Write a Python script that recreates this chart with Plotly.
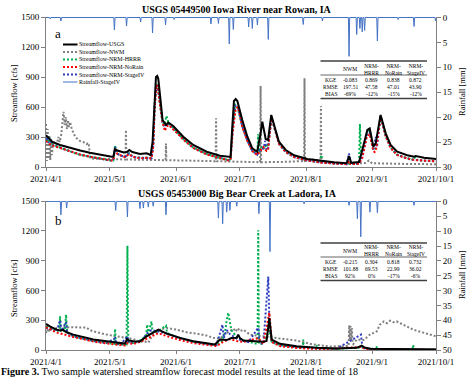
import pandas as pd
import plotly.graph_objects as go
from plotly.subplots import make_subplots

# ---------------- data (day offset from 2021-04-01, value) ----------------
START = "2021-04-01"
END = "2021-10-01"

usgs_a = [(0, 318), (3, 250), (6.6, 220), (9, 205), (12.8, 187), (16, 165), (20.6, 143), (24, 128),
          (28.5, 110), (30.8, 103), (31.6, 105), (32.4, 180), (33.5, 165), (34.7, 160), (36.5, 145),
          (38, 150), (39.1, 170), (40.5, 150), (42, 140), (44.1, 130), (47.2, 137), (49.1, 120),
          (50.0, 250), (50.8, 600), (51.6, 900), (52.2, 910), (52.7, 880), (53.6, 700), (54.7, 470),
          (56.3, 420), (57.4, 445), (59.7, 410), (62, 360), (64.4, 303), (69.1, 220), (75.4, 153),
          (81.6, 113), (85.6, 97), (86.6, 100), (87.4, 400), (88.2, 660), (89.0, 680), (89.8, 660), (92.1, 470),
          (94.5, 303), (96.8, 187), (99.1, 153), (100.7, 337), (101.5, 453), (103.1, 277), (104.2, 270),
          (105.7, 520), (107, 420), (109.3, 253), (112.5, 170), (116.4, 117), (122.6, 80), (128.9, 60),
          (135.1, 47), (141.1, 37), (142.2, 110), (143.2, 42), (146.9, 50), (148.4, 170), (150.8, 370),
          (151.9, 385), (153.6, 203), (154.7, 237), (157, 520), (159.4, 337), (161.7, 220), (164.8, 153),
          (169.5, 117), (172.7, 103), (173.5, 110), (177.4, 93), (183, 80)]

nwm_a = [(0, 430), (0.4, 60), (0.8, 380), (1.2, 80), (1.6, 320), (2.0, 70), (2.4, 280), (2.8, 120),
         (3.3, 260), (4, 240), (5, 220), (5.8, 300), (6.4, 250), (7.2, 330), (8.2, 552), (8.8, 420),
         (9.3, 500), (9.8, 380), (10.3, 470), (10.8, 400), (11.3, 450), (12, 390), (13, 330),
         (14.4, 287), (16, 260), (17.5, 250), (19, 230), (20, 240), (20.8, 85), (25, 82), (30, 78),
         (35, 75), (37.3, 75), (37.5, 370), (37.7, 75), (45, 72), (50, 70), (56.1, 68), (56.3, 235),
         (56.5, 68), (65, 65), (72, 62), (79.6, 58), (79.8, 487), (80, 58), (85, 55), (90, 52), (95, 50),
         (100.5, 48), (100.7, 810), (100.9, 48), (110, 50), (115, 55), (121.1, 60), (121.3, 887),
         (121.5, 60), (125, 75), (127, 70), (128.8, 50), (129, 610), (129.2, 45), (135, 38), (140, 35),
         (145, 33), (150, 40), (151.5, 65), (153, 38), (160, 32), (170, 30), (183, 28)]

hrrr_a = [(0, 280), (0.7, 250), (1.4, 300), (2.2, 240), (3, 225), (6.6, 195), (9, 172), (12.8, 143),
          (16, 122), (20.6, 103), (24, 85), (28.5, 70), (30.8, 63), (31.6, 66), (32.4, 215), (33.2, 140),
          (35, 112), (37, 102), (39, 140), (40.5, 108), (42, 98), (45, 92), (47.2, 95), (49.5, 90),
          (50.3, 220), (51, 620), (51.8, 830), (52.5, 790), (53.3, 680), (54.7, 440), (55.6, 420),
          (56.5, 510), (57.5, 440), (59.7, 390), (62, 335), (64.4, 280), (69.1, 195), (75.4, 130),
          (81.6, 90), (85.6, 70), (86.6, 80), (87.6, 400), (88.7, 630), (90, 590), (91, 500), (92.1, 410),
          (94.5, 265), (96.8, 165), (99.1, 125), (99.6, 330), (100.1, 150), (100.7, 180), (101.5, 210),
          (102.2, 180), (103.5, 230), (104.2, 200), (105.8, 500), (107, 405), (109.3, 235), (112.5, 150),
          (116.4, 100), (122.6, 66), (128.5, 48), (129.2, 120), (129.8, 50), (135.1, 36), (141.1, 30),
          (143, 32), (146.9, 35), (147.3, 430), (147.8, 120), (148.4, 110), (150.5, 330), (151.9, 370),
          (153.6, 170), (154.9, 190), (157, 510), (159.4, 312), (161.7, 192), (164.8, 122), (169.5, 87),
          (172.5, 72), (173, 95), (173.5, 72), (177.4, 63), (183, 58)]

norain_a = [(0, 260), (1, 240), (3, 215), (6.6, 190), (9, 170), (12.8, 145), (16, 125), (20.6, 103),
            (24, 88), (28.5, 72), (30.8, 65), (31.6, 68), (32.4, 190), (33.5, 130), (35, 115), (37, 100),
            (39, 130), (40.5, 105), (42, 95), (45, 88), (47.2, 92), (49.5, 85), (50.3, 200), (51, 600),
            (51.8, 820), (52.5, 800), (53.3, 650), (54.7, 450), (55.8, 360), (56.5, 400), (57.5, 420),
            (59.7, 380), (62, 330), (64.4, 275), (69.1, 190), (75.4, 125), (81.6, 85), (85.6, 65),
            (86.6, 75), (87.6, 350), (89, 580), (90, 600), (91, 520), (92.1, 400), (94.5, 260),
            (96.8, 160), (99.1, 120), (100.7, 170), (102, 200), (103.5, 160), (104.2, 170), (105.8, 500),
            (107, 400), (109.3, 230), (112.5, 150), (116.4, 100), (122.6, 65), (128.9, 45), (135.1, 35),
            (141.1, 28), (142.2, 60), (143, 30), (146.9, 32), (148.4, 90), (150.5, 300), (151.9, 330),
            (153.6, 160), (154.2, 150), (154.9, 180), (157, 505), (159.4, 310), (161.7, 190),
            (164.8, 120), (169.5, 85), (172.7, 70), (177.4, 62), (183, 57)]

stageiv_a = [(0, 270), (0.5, 300), (1.2, 240), (2, 280), (3, 220), (6.6, 192), (9, 171), (12.8, 144),
             (16, 123), (20.6, 103), (24, 86), (28.5, 71), (30.8, 64), (31.6, 67), (32.4, 200),
             (33.3, 135), (35, 113), (37, 101), (39, 135), (40.5, 106), (42, 96), (45, 90), (47.2, 93),
             (49.5, 87), (50.3, 210), (51, 610), (51.8, 825), (52.5, 795), (53.3, 670), (54.7, 445),
             (55.8, 380), (56.5, 440), (57.5, 430), (59.7, 385), (62, 332), (64.4, 278), (69.1, 192),
             (75.4, 128), (81.6, 88), (85.6, 68), (86.6, 78), (87.6, 380), (88.9, 610), (90, 600),
             (91, 510), (92.1, 405), (94.5, 262), (96.8, 162), (99.1, 122), (100.7, 175), (102.2, 190),
             (102.8, 260), (103.5, 170), (104.2, 185), (105.8, 500), (107, 402), (109.3, 232),
             (112.5, 150), (116.4, 100), (122.6, 65), (128.9, 46), (135.1, 35), (141.1, 29),
             (142.2, 135), (143, 35), (146.9, 33), (148.4, 100), (150.5, 320), (151.9, 345),
             (153.6, 165), (154.7, 300), (155.3, 200), (157, 508), (159.4, 311), (161.7, 191),
             (164.8, 121), (169.5, 86), (172.7, 71), (177.4, 62), (183, 57)]

rain_a = [(2, 0.3), (7.0, 0.7), (32.1, 2.5), (37.8, 1.7), (44.4, 0.9), (50.0, 3.1), (56.1, 1.5),
          (60.1, 0.4), (77.4, 1.3), (80.9, 1.2), (86.0, 5.3), (87.9, 2.4), (95.1, 1.9), (96.8, 2.2),
          (99.2, 1.5), (104.3, 4.4), (120.7, 1.4), (129.7, 0.7), (142.2, 7.8), (145.8, 3.4),
          (147.3, 2.2), (148.4, 2.9), (149.5, 2.6), (155.5, 4.7), (165.2, 0.4), (172.7, 1.8),
          (182.8, 0.7)]

usgs_b = [(0, 262), (2, 235), (5, 205), (7, 195), (8, 205), (9.7, 178), (12.8, 155), (15, 145),
          (17.5, 132), (22.2, 105), (28.5, 88), (34.7, 72), (37.1, 65), (38, 110), (39, 95), (41, 88),
          (44.1, 85), (47.2, 138), (50.3, 178), (52.7, 205), (56.6, 165), (62.9, 122), (69.1, 88),
          (75.4, 65), (79.3, 55), (81.6, 105), (84.8, 100), (87, 120), (89.5, 122), (90.2, 155),
          (91, 120), (92.6, 95), (98.9, 82), (102, 82), (103.5, 90), (104.8, 320), (105.9, 105),
          (109.8, 62), (117.6, 38), (127, 22), (136.4, 15), (145.8, 22), (148.1, 45), (149.5, 25),
          (152, 12), (164.5, 8), (183, 5)]

nwm_b = [(0, 170), (0.5, 210), (1, 180), (1.5, 200), (3, 215), (5, 222), (8, 228), (12, 230), (16, 228),
         (19, 225), (20.6, 200), (22.2, 188), (28.5, 155), (34.7, 132), (38, 125), (41, 110), (44, 80),
         (46, 90), (48, 75), (50, 150), (53.5, 205), (56.6, 222), (61.3, 205), (66, 178), (70.7, 165),
         (75.4, 145), (78.5, 122), (81.6, 115), (84, 160), (86.3, 195), (88, 215), (89, 185), (90, 220),
         (91, 190), (92.6, 205), (95.7, 155), (102, 135), (109.8, 115), (117.6, 95), (125.4, 55),
         (133, 35), (139.5, 40), (142, 40), (142.3, 250), (142.6, 100), (142.9, 240), (143.2, 90),
         (143.5, 220), (143.8, 70), (144.2, 60), (145.8, 105), (149, 100), (152, 155), (155.2, 188),
         (156.7, 255), (158.5, 288), (160, 270), (161.5, 295), (163, 280), (164.5, 288), (167.6, 255),
         (172.3, 205), (177, 175), (183, 138)]

hrrr_b = [(0, 235), (3, 205), (5, 190), (6.2, 200), (6.6, 338), (7, 200), (8.8, 190), (9.4, 355),
          (9.9, 180), (12.8, 140), (17.5, 115), (22.2, 92), (28.5, 72), (32, 62), (32.4, 212),
          (32.8, 62), (35, 55), (37.8, 55), (38.2, 1050), (38.6, 80), (41, 70), (45, 105), (47, 150),
          (47.5, 255), (48, 160), (49.5, 288), (50, 180), (52.7, 190), (56.3, 245), (56.8, 170),
          (62.9, 120), (69.1, 85), (75.4, 62), (80, 50), (82.5, 90), (84, 180), (84.8, 300), (85.5, 375),
          (86.3, 280), (87, 200), (89.5, 130), (92, 100), (95, 85), (99.3, 60), (99.6, 1205),
          (99.9, 60), (102, 65), (104.8, 200), (105.9, 80), (109.8, 50), (117.6, 30), (120.5, 28),
          (120.7, 105), (121, 28), (126.8, 20), (127, 50), (127.3, 18), (136.4, 12), (148, 25),
          (155, 8), (155.2, 35), (155.5, 8), (172, 6), (172.3, 50), (172.6, 6), (183, 5)]

norain_b = [(0, 230), (5, 175), (9.7, 150), (12.8, 130), (17.5, 110), (22.2, 85), (28.5, 65), (34.7, 50),
            (37.1, 45), (38.3, 70), (41, 60), (45, 90), (50.3, 150), (52.7, 170), (56.6, 140),
            (62.9, 100), (69.1, 70), (75.4, 50), (80, 40), (83, 80), (86.3, 110), (89.5, 90), (92.6, 80),
            (99.6, 120), (102, 60), (104.8, 375), (105.9, 80), (109.8, 40), (117.6, 20), (130, 8),
            (148, 30), (150, 8), (160, 5), (183, 3)]

stageiv_b = [(0, 225), (3, 200), (5, 185), (6.6, 300), (7.2, 190), (9.4, 280), (9.9, 175), (12.8, 138),
             (17.5, 112), (22.2, 90), (28.5, 70), (32.4, 120), (33, 60), (35, 54), (38.2, 140),
             (38.6, 75), (41, 68), (45, 100), (47.5, 170), (49.5, 200), (52.7, 185), (56.3, 170),
             (62.9, 118), (69.1, 83), (75.4, 60), (80, 48), (82.8, 255), (83.4, 120), (84.8, 200),
             (86.3, 160), (89.5, 115), (92, 95), (95, 80), (99.6, 225), (100.2, 70), (102, 62),
             (104.3, 738), (104.8, 300), (105.9, 85), (109.8, 48), (117.6, 28), (127, 18), (136.4, 12),
             (147.8, 155), (148.5, 20), (155, 8), (183, 5)]

rain_b = [(7.0, 4.5), (9.7, 2.2), (32.7, 3.0), (38.2, 5.2), (44.1, 2.4), (45.7, 2.2), (48.0, 1.9),
          (50.3, 1.6), (56.3, 4.5), (80.9, 5.6), (82.9, 7.5), (84.8, 3.6), (86.3, 3.0), (89.5, 1.6),
          (99.9, 4.1), (105.1, 16.9), (121.1, 0.8), (142.2, 1.3), (146.1, 5.8), (147.7, 11.9),
          (152.0, 3.6), (155.5, 3.8), (172.7, 1.3)]

titles = ["USGS 05449500 Iowa River near Rowan, IA", "USGS 05453000 Big Bear Creek at Ladora, IA"]
panel_labels = ["a", "b"]
table_header = ["NWM", "NRM-<br>HRRR", "NRM-<br>NoRain", "NRM-<br>StageIV"]
row_names = ["KGE", "RMSE", "BIAS"]
table_a = [["-0.083", "0.869", "0.838", "0.872"],
           ["197.51", "47.58", "47.01", "43.90"],
           ["-69%", "-12%", "-15%", "-12%"]]
table_b = [["-0.215", "0.304", "0.818", "0.732"],
           ["101.88", "69.53", "22.99", "36.02"],
           ["92%", "0%", "-17%", "-6%"]]
legend_names = ["Streamflow-USGS", "Streamflow-NWM", "Streamflow-NRM-HRRR",
                "Streamflow-NRM-NoRain", "Streamflow-NRM-StageIV", "Rainfall-StageIV"]
caption = "<b>Figure 3.</b> Two sample watershed streamflow forecast model results at the lead time of 18"

# ---------------- helpers ----------------
W, H = 474, 377
L, R, T, B = 46, 38, 17, 27
PW, PH = W - L - R, H - T - B
FONT = "Liberation Serif, Times New Roman, serif"
base = pd.Timestamp(START)


def px(x):
    return (x - L) / PW


def py(y):
    return (H - B - y) / PH


def to_xy(pairs):
    d = [p[0] for p in pairs]
    v = [p[1] for p in pairs]
    return base + pd.to_timedelta(d, unit="D"), v


def rain_xy(events, half=0.3):
    d, v = [0.0], [0.0]
    for day, mm in events:
        d += [day - half, day, day + half]
        v += [0.0, mm, 0.0]
    d.append(183.0)
    v.append(0.0)
    return base + pd.to_timedelta(d, unit="D"), v


STYLE = {
    "usgs": dict(color="black", width=2),
    "nwm": dict(color="#7f7f7f", width=2, dash="2px,2px"),
    "hrrr": dict(color="#00b050", width=2, dash="2px,2px"),
    "norain": dict(color="#ff0000", width=2, dash="2px,2px"),
    "stageiv": dict(color="#2f3fbf", width=2, dash="2px,2px"),
    "rain": dict(color="#4472c4", width=1),
}

fig = make_subplots(rows=2, cols=1, specs=[[{"secondary_y": True}], [{"secondary_y": True}]])

panels = [
    (1, [("nwm", nwm_a), ("hrrr", hrrr_a), ("stageiv", stageiv_a), ("norain", norain_a), ("usgs", usgs_a)], rain_a),
    (2, [("nwm", nwm_b), ("hrrr", hrrr_b), ("stageiv", stageiv_b), ("norain", norain_b), ("usgs", usgs_b)], rain_b),
]
for row, series, rain in panels:
    for key, data in series:
        x, y = to_xy(data)
        fig.add_trace(go.Scatter(x=x, y=y, mode="lines", line=STYLE[key], showlegend=False,
                                 hoverinfo="skip"), row=row, col=1, secondary_y=False)
    rx, ry = rain_xy(rain)
    fig.add_trace(go.Scatter(x=rx, y=ry, mode="lines", line=STYLE["rain"], showlegend=False,
                             hoverinfo="skip"), row=row, col=1, secondary_y=True)

axis_common = dict(showline=True, linecolor="#808080", linewidth=1, ticks="outside", ticklen=4,
                   tickcolor="#808080", showgrid=False, zeroline=False, automargin=False,
                   tickfont=dict(family=FONT, size=9, color="black"))
xax = dict(axis_common, type="date", range=[START, END], dtick="M1", tick0=START,
           tickformat="%Y/%-m/%-d", ticklen=3)
fig.update_layout(
    xaxis=dict(xax, domain=[0, 1]),
    xaxis2=dict(xax, domain=[0, 1]),
    yaxis=dict(axis_common, domain=[py(167), py(17)], range=[0, 1500], tickvals=list(range(0, 1501, 300))),
    yaxis3=dict(axis_common, domain=[0, py(201)], range=[0, 1500], tickvals=list(range(0, 1501, 300))),
    yaxis2=dict(axis_common, range=[30, -0.1], tickvals=list(range(0, 31, 5)), side="right"),
    yaxis4=dict(axis_common, range=[50, -0.15], tickvals=list(range(0, 51, 5)), side="right"),
)

ann = []
shapes = []


def text(t, x, y, size, xanchor="center", yanchor="middle", angle=0):
    ann.append(dict(text=t, x=px(x), y=py(y), xref="paper", yref="paper", showarrow=False,
                    xanchor=xanchor, yanchor=yanchor, textangle=angle, borderpad=0, borderwidth=0,
                    font=dict(family=FONT, size=size, color="black")))


def hline(x0, x1, y, width, color="#404040", dash="solid"):
    shapes.append(dict(type="line", xref="paper", yref="paper", x0=px(x0), x1=px(x1), y0=py(y), y1=py(y),
                       line=dict(color=color, width=width, dash=dash)))


# titles, panel labels, axis titles
for t, yc in zip(titles, [10, 193]):
    text("<b>" + t + "</b>", 237, yc, 10)
for lab, (lx, ly) in zip(panel_labels, [(58, 33), (58, 220)]):
    text(lab, lx, ly, 13)
for yc in [93, 288]:
    text("Streamflow [cfs]", 14, yc, 8.5, angle=-90)
for yc in [92, 275]:
    text("Rainfall [mm]", 462, yc, 8.5, angle=-90)

# tables
col_x = [350, 371.5, 393.5, 415.5]
for t0, tbl in [(61, table_a), (243, table_b)]:
    hline(320.5, 427, t0, 1.5)
    hline(320.5, 427, t0 + 14, 0.8)
    hline(320.5, 427, t0 + 37.5, 1.5)
    for cx, h in zip(col_x, table_header):
        text(h, cx, t0 + 8, 5.5)
    for r, (name, vals) in enumerate(zip(row_names, tbl)):
        ry = t0 + 19 + 7 * r
        text(name, 331, ry, 5.5)
        for cx, v in zip(col_x, vals):
            text(v, cx, ry, 5.5)

# legend (panel a)
leg_keys = ["usgs", "nwm", "hrrr", "norain", "stageiv", "rain"]
for i, (k, name) in enumerate(zip(leg_keys, legend_names)):
    ly = 44.5 + 7.5 * i
    st = STYLE[k]
    hline(63, 77.5, ly, st["width"], color=st["color"], dash=st.get("dash", "solid"))
    text(name, 78.5, ly, 6, xanchor="left")

# caption (kept fully inside the page, below the date labels)
text(caption, 1, 377, 10, xanchor="left", yanchor="bottom")

fig.update_layout(annotations=ann, shapes=shapes, width=W, height=H,
                  margin=dict(l=L, r=R, t=T, b=B), template="none",
                  plot_bgcolor="white", paper_bgcolor="white", showlegend=False)

# remove the browser's default 8px page margin so the figure fills the window exactly
fig.write_html("out.html", config={"displayModeBar": False},
               post_script="document.body.style.margin='0';document.body.style.overflow='hidden';")
